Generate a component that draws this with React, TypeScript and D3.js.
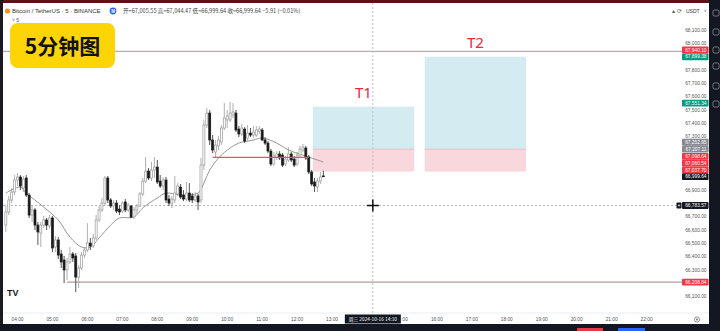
import React from "react";
import * as d3 from "d3";

// ---------- data ----------
const firstCandleHour = 3 + 40 / 60; // 03:40
const candleStepHours = 5 / 60; // 5 minute candles

const opens = [
  66637, 66735, 66825, 66885, 66975, 66997, 66915, 66990, 66862, 66712,
  66750, 66637, 66577, 66637, 66675, 66630, 66690, 66472, 66525, 66420,
  66375, 66300, 66360, 66420, 66405, 66247, 66315, 66412, 66450, 66502,
  66480, 66540, 66675, 66750, 66802, 66990, 66825, 66780, 66802, 66757,
  66742, 66810, 66750, 66780, 66697, 66750, 66780, 66870, 66967, 67042,
  66990, 67050, 67072, 66967, 66930, 66975, 66832, 66795, 66825, 66870,
  66922, 66862, 66832, 66877, 66855, 66825, 66855, 66825, 67087, 67387,
  67477, 67275, 67185, 67230, 67260, 67365, 67425, 67425, 67462, 67477,
  67357, 67320, 67357, 67290, 67327, 67312, 67312, 67342, 67350, 67275,
  67252, 67192, 67095, 67147, 67170, 67162, 67095, 67125, 67170, 67132,
  67095, 67162, 67200, 67215, 67147, 67035, 66960, 66922, 66967, 67005.55,
];
const highs = [
  66787, 66855, 66915, 67012, 67027, 67012, 67005, 67012, 66877, 66787,
  66765, 66660, 66660, 66705, 66690, 66712, 66705, 66555, 66547, 66450,
  66405, 66390, 66472, 66435, 66427, 66337, 66435, 66472, 66652, 66540,
  66570, 66712, 66780, 66840, 67005, 67005, 66840, 66825, 66825, 66787,
  66817, 66832, 66802, 66787, 66772, 66795, 66885, 66990, 67147, 67065,
  67110, 67147, 67125, 67012, 66997, 66997, 66862, 66855, 67005, 66952,
  66945, 66900, 66960, 66952, 66877, 66885, 66870, 67140, 67425, 67515,
  67500, 67312, 67275, 67305, 67387, 67552, 67500, 67560, 67552, 67500,
  67380, 67395, 67372, 67387, 67365, 67380, 67380, 67380, 67365, 67297,
  67267, 67207, 67185, 67192, 67192, 67177, 67155, 67222, 67185, 67155,
  67185, 67230, 67245, 67230, 67162, 67050, 66990, 66990, 67035, 67044.47,
];
const lows = [
  66585, 66712, 66802, 66862, 66930, 66900, 66885, 66847, 66690, 66660,
  66600, 66487, 66472, 66615, 66600, 66607, 66435, 66435, 66382, 66315,
  66202, 66225, 66345, 66360, 66135, 66165, 66300, 66390, 66435, 66450,
  66465, 66525, 66660, 66735, 66780, 66802, 66765, 66750, 66727, 66712,
  66727, 66735, 66735, 66690, 66682, 66720, 66772, 66855, 66952, 66975,
  66967, 66990, 66945, 66915, 66900, 66802, 66780, 66765, 66802, 66855,
  66832, 66817, 66817, 66810, 66802, 66810, 66750, 66802, 67050, 67365,
  67237, 67177, 67140, 67200, 67237, 67350, 67365, 67410, 67440, 67335,
  67297, 67305, 67252, 67267, 67297, 67290, 67297, 67320, 67267, 67237,
  67177, 67080, 67080, 67125, 67125, 67072, 67080, 67110, 67110, 67072,
  67080, 67140, 67185, 67125, 67020, 66930, 66885, 66885, 66945, 66999.64,
];
const closes = [
  66735, 66825, 66885, 66975, 66997, 66930, 66982, 66862, 66712, 66750,
  66637, 66585, 66637, 66675, 66637, 66690, 66465, 66525, 66412, 66360,
  66300, 66360, 66420, 66390, 66247, 66315, 66412, 66450, 66502, 66480,
  66540, 66675, 66750, 66802, 66990, 66825, 66780, 66802, 66742, 66735,
  66802, 66750, 66787, 66697, 66750, 66780, 66870, 66967, 67042, 66990,
  67050, 67072, 66960, 66930, 66975, 66825, 66802, 66832, 66877, 66930,
  66847, 66832, 66877, 66825, 66825, 66855, 66810, 67087, 67387, 67477,
  67275, 67200, 67237, 67275, 67365, 67440, 67455, 67477, 67485, 67350,
  67320, 67365, 67267, 67327, 67312, 67335, 67350, 67357, 67275, 67252,
  67192, 67095, 67155, 67170, 67140, 67087, 67132, 67170, 67125, 67087,
  67162, 67207, 67222, 67140, 67035, 66945, 66930, 66967, 66997, 66999.64,
];

// moving average (candle index, price)
const maIndex = [0, 5, 7, 13, 18, 22, 26, 29, 32, 36, 39, 44, 47, 52, 55, 60, 66, 68, 70, 73, 77, 80, 85, 88, 93, 97, 102, 104, 109];
const maValues = [66877, 66922, 66877, 66772, 66675, 66547, 66472, 66472, 66540, 66637, 66690, 66697, 66765, 66840, 66877, 66862, 66877, 66952, 67050, 67140, 67215, 67252, 67275, 67290, 67252, 67200, 67162, 67147, 67110];

const timeTickHours = [4, 5, 6, 7, 8, 9, 10, 11, 12, 13, 14, 15, 16, 17, 18, 19, 20, 21, 22];
const priceTicks = [66100, 66200, 66300, 66400, 66500, 66600, 66700, 66800, 66900, 67000, 67100, 67200, 67300, 67400, 67500, 67600, 67700, 67800, 67900, 68000, 68100];

const axisLabelValues = [67940.1, 67899.38, 67551.34, 67252.95, 67207.11, 67098.64, 67060.54, 67037.7, 66999.64, 66783.57, 66208.84];
const axisLabelKinds = ["red", "green", "green", "grey", "grey", "red", "red", "red", "dark", "dark", "red"];

const zoneNames = ["T1", "T2"];
const zoneStartHour = [12.45, 15.65];
const zoneEndHour = [15.35, 18.55];
const zoneTop = [67525, 67899.38];
const zoneMid = [67207.11, 67207.11];
const zoneBottom = [67037.7, 67037.7];

const topLevel = 67940.1;
const lowLevel = 66208.84;
const lowLevelStartHour = 5 + 25 / 60;
const redLevel = 67145;
const redLevelStartHour = 9 + 35 / 60;
const redLevelEndHour = 12 + 20 / 60;

const crossHour = 14 + 10 / 60;
const crossPrice = 66783.57;
const crossDateLabel = "周三 2024-10-16  14:10";

const headerTitle = "Bitcoin / TetherUS · 5 · BINANCE";
const headerOHLC = "开=67,005.55  高=67,044.47  低=66,999.64  收=66,999.64  −5.91 (−0.01%)";
const badgeText = "5分钟图";

// ---------- chart ----------
const W = 720;
const H = 331;
const plotRight = 682;
const axisRight = 709;
const FONT = "'Liberation Sans', Arial, sans-serif";

const labelColors: Record<string, string> = {
  red: "#f23645",
  green: "#089981",
  grey: "#868993",
  dark: "#131722",
};

export default function App() {
  const x = d3.scaleLinear().domain([4, 22]).range([17.5, 646.6]);
  const y = d3.scaleLinear().domain([66300, 68100]).range([270, 30]);
  const fmt = d3.format(",.2f");

  const candles = opens.map((o, i) => ({
    t: firstCandleHour + i * candleStepHours,
    o,
    h: highs[i],
    l: lows[i],
    c: closes[i],
  }));

  const maLine = d3
    .line<number>()
    .x((_, k) => x(firstCandleHour + maIndex[k] * candleStepHours))
    .y((v) => y(v))
    .curve(d3.curveCatmullRom.alpha(0.5));

  // stacked axis labels (bottom-up)
  const order = axisLabelValues.map((v, i) => i).sort((a, b) => y(axisLabelValues[b]) - y(axisLabelValues[a]));
  const labelY: number[] = new Array(axisLabelValues.length);
  let prev = Infinity;
  const LH = 6.8;
  order.forEach((i) => {
    const ny = Math.min(y(axisLabelValues[i]), prev - LH);
    labelY[i] = ny;
    prev = ny;
  });

  const visibleTicks = priceTicks.filter((p) => labelY.every((ly) => Math.abs(ly - y(p)) >= 5));
  const cx = x(crossHour);
  const cy = y(crossPrice);
  const bw = 2;
  const dateBoxHalf = 28;
  const visibleTimeTicks = timeTickHours.filter((h) => Math.abs(x(h) - cx) > dateBoxHalf);

  return (
    <div style={{ position: "fixed", left: 0, top: 0, width: W, height: H, background: "#fff" }}>
      <svg width={W} height={H} viewBox={`0 0 ${W} ${H}`} style={{ display: "block" }}>
        <defs>
          <clipPath id="timeClip">
            <rect x={cx + dateBoxHalf} y={305} width={W} height={20} />
            <rect x={0} y={305} width={cx - dateBoxHalf} height={20} />
          </clipPath>
        </defs>
        <rect x={0} y={0} width={W} height={H} fill="#ffffff" />

        {/* zones */}
        {zoneNames.map((n, i) => {
          const x0 = x(zoneStartHour[i]);
          const x1 = x(zoneEndHour[i]);
          return (
            <g key={n}>
              <rect x={x0} y={y(zoneTop[i])} width={x1 - x0} height={y(zoneMid[i]) - y(zoneTop[i])} fill="#d4ecf1" />
              <rect x={x0} y={y(zoneMid[i])} width={x1 - x0} height={y(zoneBottom[i]) - y(zoneMid[i])} fill="#f8d8dc" />
              <line x1={x0} x2={x1} y1={y(zoneMid[i])} y2={y(zoneMid[i])} stroke="#e6bcc3" strokeWidth={0.8} />
              <text
                x={(x0 + x1) / 2}
                y={y(zoneTop[i]) - 9}
                textAnchor="middle"
                fontSize={15}
                fontFamily="'Noto Sans', 'Liberation Sans', sans-serif"
                fill="#e8283c"
              >
                {n}
              </text>
            </g>
          );
        })}

        {/* level lines */}
        <line x1={3} x2={plotRight} y1={y(topLevel)} y2={y(topLevel)} stroke="#b9abad" strokeWidth={1.2} />
        <line x1={x(lowLevelStartHour)} x2={plotRight} y1={y(lowLevel)} y2={y(lowLevel)} stroke="#b59c9e" strokeWidth={1.1} />

        {/* crosshair dashed lines */}
        <line x1={cx} x2={cx} y1={3} y2={313} stroke="#b2b5be" strokeWidth={0.8} strokeDasharray="2,2" />
        <line x1={3} x2={plotRight} y1={cy} y2={cy} stroke="#a0a3ab" strokeWidth={0.8} strokeDasharray="2,2" />

        {/* MA */}
        <path d={maLine(maValues) || ""} fill="none" stroke="#8a8a8a" strokeWidth={0.9} />

        {/* candles */}
        {candles.map((d, i) => {
          const px = x(d.t);
          const up = d.c >= d.o;
          const top = y(Math.max(d.o, d.c));
          const bot = y(Math.min(d.o, d.c));
          return (
            <g key={i}>
              <line x1={px} x2={px} y1={y(d.h)} y2={y(d.l)} stroke={up ? "#9a9a9a" : "#2a2a2a"} strokeWidth={0.8} />
              <rect
                x={px - bw / 2}
                y={top}
                width={bw}
                height={Math.max(0.8, bot - top)}
                fill={up ? "#ffffff" : "#1a1a1a"}
                stroke={up ? "#9a9a9a" : "#1a1a1a"}
                strokeWidth={0.7}
              />
            </g>
          );
        })}

        {/* red level */}
        <line x1={x(redLevelStartHour)} x2={x(redLevelEndHour)} y1={y(redLevel)} y2={y(redLevel)} stroke="#e05668" strokeWidth={1.3} />

        {/* crosshair cross */}
        <line x1={cx - 6} x2={cx + 6} y1={cy} y2={cy} stroke="#111" strokeWidth={1.5} />
        <line x1={cx} x2={cx} y1={cy - 6} y2={cy + 6} stroke="#111" strokeWidth={1.5} />

        {/* header */}
        <circle cx={7.5} cy={11} r={2.6} fill="#f7931a" />
        <text x={12} y={13} fontSize={6} fontFamily={FONT} fill="#333">
          {headerTitle}
        </text>
        <circle cx={113} cy={11} r={3.4} fill="#2962ff" />
        <text x={113} y={12.8} fontSize={4.5} textAnchor="middle" fill="#fff" fontFamily={FONT} fontWeight="bold">
          M
        </text>
        <text x={123} y={13} fontSize={5.6} fontFamily="'Noto Sans CJK SC', sans-serif" fill="#444">
          {headerOHLC}
        </text>
        <text x={12} y={22} fontSize={5} fontFamily={FONT} fill="#555">
          ˅ 5
        </text>

        {/* badge */}
        <rect x={10} y={23} width={105} height={45} rx={8} fill="#fdd405" />
        <text
          x={62.5}
          y={53.5}
          textAnchor="middle"
          fontSize={21}
          fontWeight="bold"
          fontFamily="'Noto Sans CJK SC', sans-serif"
          fill="#111"
        >
          {badgeText}
        </text>

        {/* TV logo */}
        <text x={7} y={296} fontSize={9} fontWeight="900" fontFamily={FONT} fill="#131722">
          TV
        </text>

        {/* price axis ticks */}
        {visibleTicks.map((p) => (
          <text key={p} x={706.5} y={y(p) + 1.7} textAnchor="end" fontSize={4.8} fontFamily={FONT} fill="#555">
            {fmt(p)}
          </text>
        ))}

        {/* price axis labels */}
        {axisLabelValues.map((v, i) => (
          <g key={i}>
            <rect x={plotRight} y={labelY[i] - LH / 2} width={axisRight - plotRight - 0.5} height={LH} fill={labelColors[axisLabelKinds[i]]} rx={0.8} />
            <text x={706.5} y={labelY[i] + 1.7} textAnchor="end" fontSize={4.8} fontFamily={FONT} fill="#fff">
              {fmt(v)}
            </text>
          </g>
        ))}
        {/* crosshair "+" button near price label */}
        <rect x={676.5} y={cy - 3} width={5} height={6} fill="#131722" rx={0.8} />
        <line x1={677.8} x2={680.2} y1={cy} y2={cy} stroke="#fff" strokeWidth={0.6} />
        <line x1={679} x2={679} y1={cy - 1.2} y2={cy + 1.2} stroke="#fff" strokeWidth={0.6} />

        {/* top-right header */}
        <text x={671} y={13} fontSize={5} fontFamily={FONT} fill="#555">▲</text>
        <text x={676.5} y={13} fontSize={5.5} fontFamily={FONT} fill="#555">⟳</text>
        <text x={686} y={13} fontSize={5} fontFamily={FONT} fill="#333">USDT</text>
        <text x={704} y={13} fontSize={4.5} fontFamily={FONT} fill="#555">˅</text>

        {/* time axis */}
        <line x1={3} x2={axisRight} y1={313} y2={313} stroke="#e6e8ee" strokeWidth={0.8} />
        <g clipPath="url(#timeClip)">
          {visibleTimeTicks.map((h) => (
            <text key={h} x={x(h)} y={320.5} textAnchor="middle" fontSize={4.8} fontFamily={FONT} fill="#555">
              {`${String(h).padStart(2, "0")}:00`}
            </text>
          ))}
        </g>
        <rect x={cx - dateBoxHalf} y={314.5} width={dateBoxHalf * 2} height={9} fill="#131722" />
        <text x={cx} y={320.6} textAnchor="middle" fontSize={4.8} fontFamily="'Noto Sans CJK SC', sans-serif" fill="#fff">
          {crossDateLabel}
        </text>
        <circle cx={697} cy={319.5} r={2.6} fill="none" stroke="#666" strokeWidth={0.7} />
        <circle cx={697} cy={319.5} r={0.9} fill="#666" />

        {/* frame: dark borders */}
        <rect x={0} y={0} width={W} height={3} fill="#5a1418" />
        <rect x={0} y={0} width={3} height={H} fill="#1a1b20" />
        <rect x={axisRight} y={0} width={W - axisRight} height={H} fill="#131722" />
        <rect x={0} y={324} width={W} height={H - 324} fill="#131722" />
        <rect x={577} y={328} width={26} height={3} fill="#e53945" />
        <rect x={618} y={328} width={27} height={3} fill="#2962ff" />

        {/* right toolbar icons */}
        {[13, 32, 50, 66, 86, 104].map((iy, k) => (
          <rect key={k} x={713} y={iy - 3} width={6} height={6} rx={1.5} fill="none" stroke="#8d909a" strokeWidth={0.8} />
        ))}
      </svg>
    </div>
  );
}
